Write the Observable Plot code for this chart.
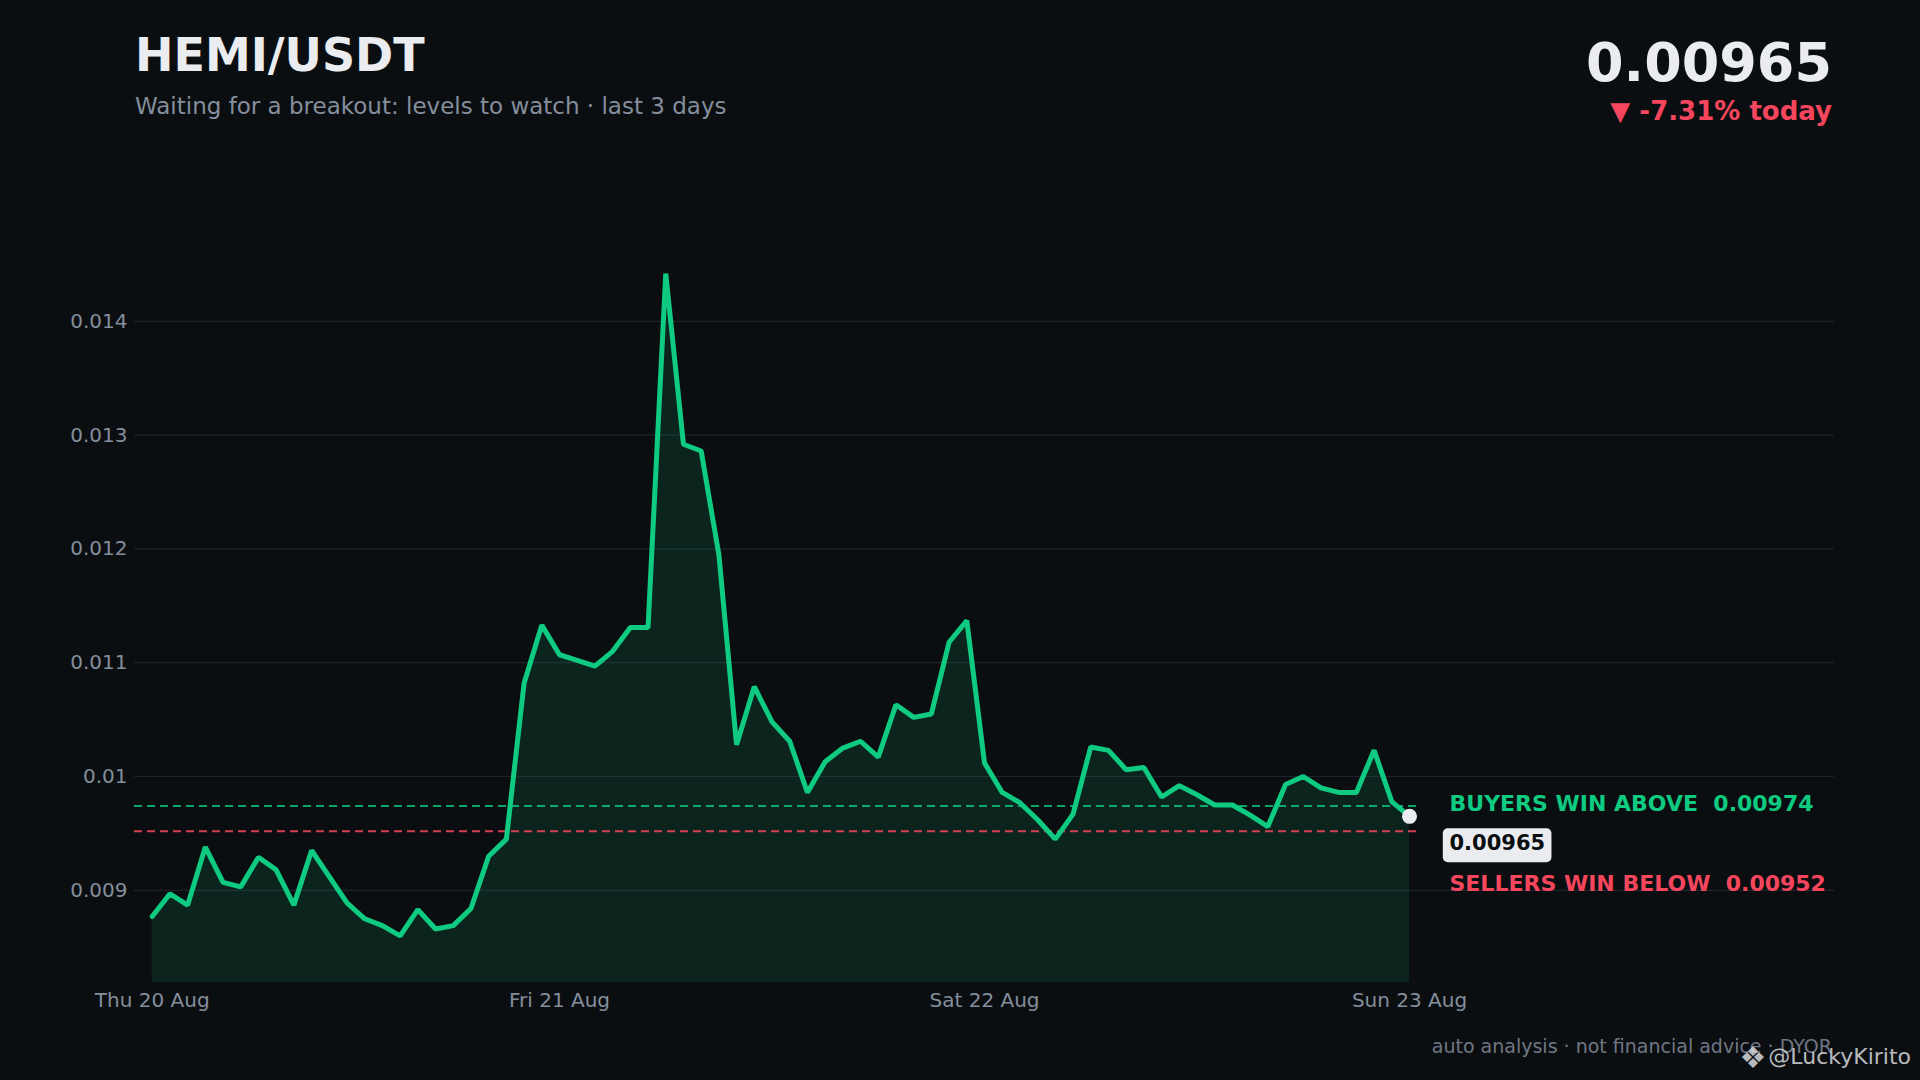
<!DOCTYPE html>
<html>
<head>
<meta charset="utf-8">
<script src="https://cdn.jsdelivr.net/npm/d3@7"></script>
<script src="https://cdn.jsdelivr.net/npm/@observablehq/plot@0.6"></script>
<style>
  html, body { margin: 0; padding: 0; background: #0b0e11; }
  #root { position: relative; width: 1920px; height: 1080px; background: #0b0e11; overflow: hidden; font-family: "DejaVu Sans", sans-serif; }
  .abs { position: absolute; white-space: nowrap; line-height: 1; }
  #title { left: 135px; top: 32px; font-size: 46px; font-weight: bold; color: #eaecef; }
  #subtitle { left: 135px; top: 94.5px; font-size: 23px; color: #848e9c; }
  #price { right: 88px; top: 36px; font-size: 54px; font-weight: bold; color: #eaecef; }
  #change { right: 88px; top: 98px; font-size: 26px; font-weight: bold; color: #f6465d; }
  #chart { position: absolute; left: 0; top: 160px; }
  #caption { right: 88px; top: 1037px; font-size: 19px; color: #707784; }
  #mark { right: 9px; top: 1043px; font-size: 22px; color: #d5d8dc; opacity: 0.85; }
  #mark .logo { font-size: 30px; vertical-align: -4px; margin-right: 2px; }
</style>
</head>
<body>
<div id="root">
  <div id="title" class="abs"></div>
  <div id="subtitle" class="abs"></div>
  <div id="price" class="abs"></div>
  <div id="change" class="abs"></div>
  <div id="chart"></div>
  <div id="caption" class="abs"></div>
  <div id="mark" class="abs"><span class="logo"></span><span class="handle"></span></div>
</div>
<script>
// ---- text ----
const titleText = "HEMI/USDT";
const subtitleText = "Waiting for a breakout: levels to watch · last 3 days";
const priceText = "0.00965";
const changeText = "▼ -7.31% today";
const captionText = "auto analysis · not financial advice · DYOR";
const watermarkLogo = "❖";
const watermarkText = "@LuckyKirito";

// ---- data: hourly closes, Thu 20 Aug 01:00 → Sun 23 Aug 00:00 (UTC) ----
const startHour = Date.UTC(2026, 7, 20, 1);
const prices = [
  0.00877, 0.00897, 0.00887, 0.00938, 0.00907, 0.00903, 0.00929, 0.00918, 0.00887, 0.00935,
  0.00912, 0.00889, 0.00875, 0.00869, 0.00860, 0.00883, 0.00866, 0.00869, 0.00884, 0.00930,
  0.00945, 0.01082, 0.01133, 0.01107, 0.01102, 0.01097, 0.01110, 0.01131, 0.01131, 0.01442,
  0.01292, 0.01286, 0.01195, 0.01028, 0.01079, 0.01048, 0.01031, 0.00986, 0.01013, 0.01025,
  0.01031, 0.01017, 0.01063, 0.01052, 0.01055, 0.01118, 0.01137, 0.01012, 0.00986, 0.00977,
  0.00962, 0.00945, 0.00967, 0.01026, 0.01023, 0.01006, 0.01008, 0.00982, 0.00992, 0.00984,
  0.00975, 0.00975, 0.00966, 0.00956, 0.00993, 0.01000, 0.00990, 0.00986, 0.00986, 0.01023,
  0.00978, 0.00965
];
const lastPrice = 0.00965;

// key levels
const levelValues = [0.00974, 0.00952];
const levelLabels = ["BUYERS WIN ABOVE", "SELLERS WIN BELOW"];

// axes
const xTickDates = [Date.UTC(2026, 7, 20, 1), Date.UTC(2026, 7, 21), Date.UTC(2026, 7, 22), Date.UTC(2026, 7, 23)];
const xTickLabels = ["Thu 20 Aug", "Fri 21 Aug", "Sat 22 Aug", "Sun 23 Aug"];
const yTicks = [0.009, 0.010, 0.011, 0.012, 0.013, 0.014];
const yTickLabels = ["0.009", "0.01", "0.011", "0.012", "0.013", "0.014"];
const xDomain = [Date.UTC(2026, 7, 20), Date.UTC(2026, 7, 24)];
const yDomain = [0.00819, 0.0150];

// ---- build ----
const GREEN = "#0ecb81", RED = "#f6465d", LIGHT = "#eaecef", GREY = "#848e9c", BG = "#0b0e11";
const data = prices.map((v, i) => ({ t: new Date(startHour + i * 3600e3), v }));
const last = data[data.length - 1];
const lastT = last.t;
const ruleEnd = new Date(+lastT + 0.4 * 3600e3);
const xStart = new Date(xDomain[0]);
const xLabelMap = new Map(xTickDates.map((d, i) => [d, xTickLabels[i]]));
const fmt = d => d.toFixed(5);

document.getElementById("title").textContent = titleText;
document.getElementById("subtitle").textContent = subtitleText;
document.getElementById("price").textContent = priceText;
document.getElementById("change").textContent = changeText;
document.getElementById("caption").textContent = captionText;
document.querySelector("#mark .logo").textContent = watermarkLogo;
document.querySelector("#mark .handle").textContent = watermarkText;

const chart = Plot.plot({
  width: 1920,
  height: 870,
  marginTop: 47,
  marginBottom: 48,
  marginLeft: 134,
  marginRight: 86,
  style: { background: "transparent", color: GREY, fontFamily: "DejaVu Sans, sans-serif", fontSize: "20px" },
  x: { type: "utc", domain: xDomain.map(d => new Date(d)) },
  y: { domain: yDomain },
  marks: [
    Plot.gridY(yTicks, { stroke: "#1d222b", strokeOpacity: 1, strokeWidth: 1.2 }),
    Plot.areaY(data, { x: "t", y1: () => yDomain[0], y2: "v", fill: GREEN, fillOpacity: 0.12 }),
    Plot.ruleY([levelValues[0]], { y: d => d, x1: () => xStart, x2: () => ruleEnd, stroke: GREEN, strokeOpacity: 0.8, strokeWidth: 2, strokeDasharray: "8,5" }),
    Plot.ruleY([levelValues[1]], { y: d => d, x1: () => xStart, x2: () => ruleEnd, stroke: RED, strokeOpacity: 0.85, strokeWidth: 2, strokeDasharray: "8,5" }),
    Plot.line(data, { x: "t", y: "v", stroke: GREEN, strokeWidth: 5, strokeLinejoin: "miter" }),
    Plot.dot([last], { x: "t", y: "v", r: 7.5, fill: LIGHT, stroke: "none" }),
    Plot.text([levelValues[0]], { x: () => lastT, y: d => d, text: d => levelLabels[0] + "\u00a0\u00a0" + fmt(d), dx: 40, dy: -2, textAnchor: "start", fill: GREEN, fontSize: 22, fontWeight: "bold" }),
    Plot.text([lastPrice], { x: () => lastT, y: d => d, text: d => fmt(d), dx: 40, dy: 27, textAnchor: "start", fill: BG, fontSize: 21, fontWeight: "bold" }),
    Plot.text([levelValues[1]], { x: () => lastT, y: d => d, text: d => levelLabels[1] + "\u00a0\u00a0" + fmt(d), dx: 40, dy: 53, textAnchor: "start", fill: RED, fontSize: 22, fontWeight: "bold" }),
    Plot.axisX({ ticks: xTickDates.map(d => new Date(d)), tickFormat: d => xLabelMap.get(+d), tickSize: 0, tickPadding: 10, fontSize: 20, label: null }),
    Plot.axisY({ ticks: yTicks, tickFormat: d => yTickLabels[yTicks.indexOf(d)], tickSize: 0, tickPadding: 7, fontSize: 20, label: null })
  ]
});
document.getElementById("chart").appendChild(chart);

// rounded light box behind the current price tag
const tag = Array.from(chart.querySelectorAll("text")).find(el => el.textContent.trim() === fmt(lastPrice));
if (tag) {
  const b = tag.getBBox();
  const rect = document.createElementNS("http://www.w3.org/2000/svg", "rect");
  rect.setAttribute("x", b.x - 6.7);
  rect.setAttribute("y", b.y - 2.8);
  rect.setAttribute("width", b.width + 13);
  rect.setAttribute("height", b.height + 10);
  rect.setAttribute("rx", 5);
  rect.setAttribute("fill", LIGHT);
  const t = tag.getAttribute("transform");
  if (t) rect.setAttribute("transform", t);
  tag.parentNode.insertBefore(rect, tag);
}
</script>
</body>
</html>
